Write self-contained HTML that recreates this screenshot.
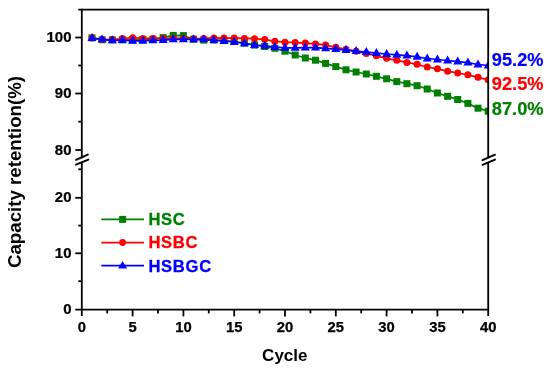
<!DOCTYPE html>
<html lang="en"><head><meta charset="utf-8"><title>Capacity retention</title>
<style>html,body{margin:0;padding:0;background:#fff}body{width:550px;height:371px;overflow:hidden;position:relative}</style></head>
<body>
<svg width="550" height="371" viewBox="0 0 550 371" style="display:block;position:absolute;left:0;top:0" font-family="'Liberation Sans', sans-serif" font-weight="bold">
<rect width="550" height="371" fill="#fff"/>
<defs><clipPath id="plotclip"><rect x="82" y="10" width="407" height="300"/></clipPath></defs>
<g clip-path="url(#plotclip)">
<polyline points="92.0,37.8 102.1,39.8 112.3,39.8 122.4,39.9 132.6,40.0 142.8,39.6 152.9,39.2 163.1,37.6 173.2,35.4 183.4,35.6 193.6,39.3 203.7,40.1 213.9,40.1 224.0,40.5 234.2,41.5 244.4,43.2 254.5,45.1 264.7,46.5 274.8,48.3 285.0,51.2 295.2,55.0 305.3,58.0 315.5,60.2 325.6,63.4 335.8,66.6 346.0,69.8 356.1,72.0 366.3,74.0 376.4,76.3 386.6,78.8 396.8,81.6 406.9,83.7 417.1,85.7 427.2,89.0 437.4,93.0 447.6,96.3 457.7,99.5 467.9,103.4 478.0,108.2 488.2,111.2" fill="none" stroke="#008000" stroke-width="1.75"/>
<rect x="88.5" y="34.3" width="7" height="7" fill="#008000"/>
<rect x="98.6" y="36.3" width="7" height="7" fill="#008000"/>
<rect x="108.8" y="36.3" width="7" height="7" fill="#008000"/>
<rect x="118.9" y="36.4" width="7" height="7" fill="#008000"/>
<rect x="129.1" y="36.5" width="7" height="7" fill="#008000"/>
<rect x="139.3" y="36.1" width="7" height="7" fill="#008000"/>
<rect x="149.4" y="35.7" width="7" height="7" fill="#008000"/>
<rect x="159.6" y="34.1" width="7" height="7" fill="#008000"/>
<rect x="169.7" y="31.9" width="7" height="7" fill="#008000"/>
<rect x="179.9" y="32.1" width="7" height="7" fill="#008000"/>
<rect x="190.1" y="35.8" width="7" height="7" fill="#008000"/>
<rect x="200.2" y="36.6" width="7" height="7" fill="#008000"/>
<rect x="210.4" y="36.6" width="7" height="7" fill="#008000"/>
<rect x="220.5" y="37.0" width="7" height="7" fill="#008000"/>
<rect x="230.7" y="38.0" width="7" height="7" fill="#008000"/>
<rect x="240.9" y="39.7" width="7" height="7" fill="#008000"/>
<rect x="251.0" y="41.6" width="7" height="7" fill="#008000"/>
<rect x="261.2" y="43.0" width="7" height="7" fill="#008000"/>
<rect x="271.3" y="44.8" width="7" height="7" fill="#008000"/>
<rect x="281.5" y="47.7" width="7" height="7" fill="#008000"/>
<rect x="291.7" y="51.5" width="7" height="7" fill="#008000"/>
<rect x="301.8" y="54.5" width="7" height="7" fill="#008000"/>
<rect x="312.0" y="56.7" width="7" height="7" fill="#008000"/>
<rect x="322.1" y="59.9" width="7" height="7" fill="#008000"/>
<rect x="332.3" y="63.1" width="7" height="7" fill="#008000"/>
<rect x="342.5" y="66.3" width="7" height="7" fill="#008000"/>
<rect x="352.6" y="68.5" width="7" height="7" fill="#008000"/>
<rect x="362.8" y="70.5" width="7" height="7" fill="#008000"/>
<rect x="372.9" y="72.8" width="7" height="7" fill="#008000"/>
<rect x="383.1" y="75.3" width="7" height="7" fill="#008000"/>
<rect x="393.3" y="78.1" width="7" height="7" fill="#008000"/>
<rect x="403.4" y="80.2" width="7" height="7" fill="#008000"/>
<rect x="413.6" y="82.2" width="7" height="7" fill="#008000"/>
<rect x="423.7" y="85.5" width="7" height="7" fill="#008000"/>
<rect x="433.9" y="89.5" width="7" height="7" fill="#008000"/>
<rect x="444.1" y="92.8" width="7" height="7" fill="#008000"/>
<rect x="454.2" y="96.0" width="7" height="7" fill="#008000"/>
<rect x="464.4" y="99.9" width="7" height="7" fill="#008000"/>
<rect x="474.5" y="104.7" width="7" height="7" fill="#008000"/>
<rect x="484.7" y="107.7" width="7" height="7" fill="#008000"/>
<polyline points="92.0,38.0 102.1,39.5 112.3,39.5 122.4,38.5 132.6,37.7 142.8,38.4 152.9,38.4 163.1,38.4 173.2,38.4 183.4,38.4 193.6,38.8 203.7,38.4 213.9,37.9 224.0,38.1 234.2,38.1 244.4,38.4 254.5,38.7 264.7,39.4 274.8,41.3 285.0,42.2 295.2,42.6 305.3,43.1 315.5,43.9 325.6,45.0 335.8,47.3 346.0,49.3 356.1,51.3 366.3,53.4 376.4,55.8 386.6,58.3 396.8,60.3 406.9,62.4 417.1,64.3 427.2,67.0 437.4,68.8 447.6,71.2 457.7,73.0 467.9,74.8 478.0,77.3 488.2,79.8" fill="none" stroke="#ff0000" stroke-width="1.75"/>
<circle cx="92.0" cy="38.0" r="3.5" fill="#ff0000"/>
<circle cx="102.1" cy="39.5" r="3.5" fill="#ff0000"/>
<circle cx="112.3" cy="39.5" r="3.5" fill="#ff0000"/>
<circle cx="122.4" cy="38.5" r="3.5" fill="#ff0000"/>
<circle cx="132.6" cy="37.7" r="3.5" fill="#ff0000"/>
<circle cx="142.8" cy="38.4" r="3.5" fill="#ff0000"/>
<circle cx="152.9" cy="38.4" r="3.5" fill="#ff0000"/>
<circle cx="163.1" cy="38.4" r="3.5" fill="#ff0000"/>
<circle cx="173.2" cy="38.4" r="3.5" fill="#ff0000"/>
<circle cx="183.4" cy="38.4" r="3.5" fill="#ff0000"/>
<circle cx="193.6" cy="38.8" r="3.5" fill="#ff0000"/>
<circle cx="203.7" cy="38.4" r="3.5" fill="#ff0000"/>
<circle cx="213.9" cy="37.9" r="3.5" fill="#ff0000"/>
<circle cx="224.0" cy="38.1" r="3.5" fill="#ff0000"/>
<circle cx="234.2" cy="38.1" r="3.5" fill="#ff0000"/>
<circle cx="244.4" cy="38.4" r="3.5" fill="#ff0000"/>
<circle cx="254.5" cy="38.7" r="3.5" fill="#ff0000"/>
<circle cx="264.7" cy="39.4" r="3.5" fill="#ff0000"/>
<circle cx="274.8" cy="41.3" r="3.5" fill="#ff0000"/>
<circle cx="285.0" cy="42.2" r="3.5" fill="#ff0000"/>
<circle cx="295.2" cy="42.6" r="3.5" fill="#ff0000"/>
<circle cx="305.3" cy="43.1" r="3.5" fill="#ff0000"/>
<circle cx="315.5" cy="43.9" r="3.5" fill="#ff0000"/>
<circle cx="325.6" cy="45.0" r="3.5" fill="#ff0000"/>
<circle cx="335.8" cy="47.3" r="3.5" fill="#ff0000"/>
<circle cx="346.0" cy="49.3" r="3.5" fill="#ff0000"/>
<circle cx="356.1" cy="51.3" r="3.5" fill="#ff0000"/>
<circle cx="366.3" cy="53.4" r="3.5" fill="#ff0000"/>
<circle cx="376.4" cy="55.8" r="3.5" fill="#ff0000"/>
<circle cx="386.6" cy="58.3" r="3.5" fill="#ff0000"/>
<circle cx="396.8" cy="60.3" r="3.5" fill="#ff0000"/>
<circle cx="406.9" cy="62.4" r="3.5" fill="#ff0000"/>
<circle cx="417.1" cy="64.3" r="3.5" fill="#ff0000"/>
<circle cx="427.2" cy="67.0" r="3.5" fill="#ff0000"/>
<circle cx="437.4" cy="68.8" r="3.5" fill="#ff0000"/>
<circle cx="447.6" cy="71.2" r="3.5" fill="#ff0000"/>
<circle cx="457.7" cy="73.0" r="3.5" fill="#ff0000"/>
<circle cx="467.9" cy="74.8" r="3.5" fill="#ff0000"/>
<circle cx="478.0" cy="77.3" r="3.5" fill="#ff0000"/>
<circle cx="488.2" cy="79.8" r="3.5" fill="#ff0000"/>
<polyline points="92.0,38.0 102.1,39.4 112.3,40.4 122.4,40.1 132.6,40.8 142.8,40.9 152.9,40.4 163.1,40.1 173.2,39.4 183.4,39.3 193.6,39.3 203.7,39.3 213.9,40.2 224.0,41.1 234.2,42.0 244.4,43.4 254.5,45.0 264.7,45.9 274.8,47.0 285.0,47.8 295.2,47.8 305.3,47.7 315.5,47.7 325.6,48.3 335.8,49.2 346.0,50.2 356.1,51.2 366.3,52.1 376.4,53.2 386.6,54.0 396.8,54.8 406.9,55.6 417.1,56.8 427.2,58.5 437.4,59.5 447.6,60.5 457.7,61.7 467.9,62.7 478.0,64.5 488.2,65.5" fill="none" stroke="#0000ff" stroke-width="1.75"/>
<polygon points="92.0,32.9 87.5,40.9 96.5,40.9" fill="#0000ff"/>
<polygon points="102.1,34.3 97.6,42.3 106.6,42.3" fill="#0000ff"/>
<polygon points="112.3,35.3 107.8,43.3 116.8,43.3" fill="#0000ff"/>
<polygon points="122.4,35.0 117.9,43.0 126.9,43.0" fill="#0000ff"/>
<polygon points="132.6,35.7 128.1,43.7 137.1,43.7" fill="#0000ff"/>
<polygon points="142.8,35.8 138.3,43.8 147.3,43.8" fill="#0000ff"/>
<polygon points="152.9,35.3 148.4,43.3 157.4,43.3" fill="#0000ff"/>
<polygon points="163.1,35.0 158.6,43.0 167.6,43.0" fill="#0000ff"/>
<polygon points="173.2,34.3 168.7,42.3 177.7,42.3" fill="#0000ff"/>
<polygon points="183.4,34.2 178.9,42.2 187.9,42.2" fill="#0000ff"/>
<polygon points="193.6,34.2 189.1,42.2 198.1,42.2" fill="#0000ff"/>
<polygon points="203.7,34.2 199.2,42.2 208.2,42.2" fill="#0000ff"/>
<polygon points="213.9,35.1 209.4,43.1 218.4,43.1" fill="#0000ff"/>
<polygon points="224.0,36.0 219.5,44.0 228.5,44.0" fill="#0000ff"/>
<polygon points="234.2,36.9 229.7,44.9 238.7,44.9" fill="#0000ff"/>
<polygon points="244.4,38.3 239.9,46.3 248.9,46.3" fill="#0000ff"/>
<polygon points="254.5,39.9 250.0,47.9 259.0,47.9" fill="#0000ff"/>
<polygon points="264.7,40.8 260.2,48.8 269.2,48.8" fill="#0000ff"/>
<polygon points="274.8,41.9 270.3,49.9 279.3,49.9" fill="#0000ff"/>
<polygon points="285.0,42.7 280.5,50.7 289.5,50.7" fill="#0000ff"/>
<polygon points="295.2,42.7 290.7,50.7 299.7,50.7" fill="#0000ff"/>
<polygon points="305.3,42.6 300.8,50.6 309.8,50.6" fill="#0000ff"/>
<polygon points="315.5,42.6 311.0,50.6 320.0,50.6" fill="#0000ff"/>
<polygon points="325.6,43.2 321.1,51.2 330.1,51.2" fill="#0000ff"/>
<polygon points="335.8,44.1 331.3,52.1 340.3,52.1" fill="#0000ff"/>
<polygon points="346.0,45.1 341.5,53.1 350.5,53.1" fill="#0000ff"/>
<polygon points="356.1,46.1 351.6,54.1 360.6,54.1" fill="#0000ff"/>
<polygon points="366.3,47.0 361.8,55.0 370.8,55.0" fill="#0000ff"/>
<polygon points="376.4,48.1 371.9,56.1 380.9,56.1" fill="#0000ff"/>
<polygon points="386.6,48.9 382.1,56.9 391.1,56.9" fill="#0000ff"/>
<polygon points="396.8,49.7 392.3,57.7 401.3,57.7" fill="#0000ff"/>
<polygon points="406.9,50.5 402.4,58.5 411.4,58.5" fill="#0000ff"/>
<polygon points="417.1,51.7 412.6,59.7 421.6,59.7" fill="#0000ff"/>
<polygon points="427.2,53.4 422.7,61.4 431.7,61.4" fill="#0000ff"/>
<polygon points="437.4,54.4 432.9,62.4 441.9,62.4" fill="#0000ff"/>
<polygon points="447.6,55.4 443.1,63.4 452.1,63.4" fill="#0000ff"/>
<polygon points="457.7,56.6 453.2,64.6 462.2,64.6" fill="#0000ff"/>
<polygon points="467.9,57.6 463.4,65.6 472.4,65.6" fill="#0000ff"/>
<polygon points="478.0,59.4 473.5,67.4 482.5,67.4" fill="#0000ff"/>
<polygon points="488.2,60.4 483.7,68.4 492.7,68.4" fill="#0000ff"/>
</g>
<g stroke="#000" stroke-width="1.8" fill="none">
<line x1="78.3" y1="9.7" x2="489.15" y2="9.7"/>
<line x1="81.8" y1="8.75" x2="81.8" y2="316"/>
<line x1="488.2" y1="8.75" x2="488.2" y2="316"/>
<line x1="75.3" y1="309.7" x2="489.15" y2="309.7"/>
<line x1="75.3" y1="37.5" x2="81.8" y2="37.5"/>
<line x1="75.3" y1="93.5" x2="81.8" y2="93.5"/>
<line x1="75.3" y1="150" x2="81.8" y2="150"/>
<line x1="75.3" y1="197.8" x2="81.8" y2="197.8"/>
<line x1="75.3" y1="253.3" x2="81.8" y2="253.3"/>
<line x1="78.3" y1="65.5" x2="81.8" y2="65.5"/>
<line x1="78.3" y1="121.7" x2="81.8" y2="121.7"/>
<line x1="78.3" y1="169.3" x2="81.8" y2="169.3"/>
<line x1="78.3" y1="225.6" x2="81.8" y2="225.6"/>
<line x1="78.3" y1="281.2" x2="81.8" y2="281.2"/>
<line x1="132.6" y1="309.7" x2="132.6" y2="316.4"/>
<line x1="183.4" y1="309.7" x2="183.4" y2="316.4"/>
<line x1="234.2" y1="309.7" x2="234.2" y2="316.4"/>
<line x1="285.0" y1="309.7" x2="285.0" y2="316.4"/>
<line x1="335.8" y1="309.7" x2="335.8" y2="316.4"/>
<line x1="386.6" y1="309.7" x2="386.6" y2="316.4"/>
<line x1="437.4" y1="309.7" x2="437.4" y2="316.4"/>
<line x1="107.2" y1="309.7" x2="107.2" y2="313.4"/>
<line x1="158.0" y1="309.7" x2="158.0" y2="313.4"/>
<line x1="208.8" y1="309.7" x2="208.8" y2="313.4"/>
<line x1="259.6" y1="309.7" x2="259.6" y2="313.4"/>
<line x1="310.4" y1="309.7" x2="310.4" y2="313.4"/>
<line x1="361.2" y1="309.7" x2="361.2" y2="313.4"/>
<line x1="412.0" y1="309.7" x2="412.0" y2="313.4"/>
<line x1="462.8" y1="309.7" x2="462.8" y2="313.4"/>
</g>
<rect x="80" y="158.6" width="3.6" height="3.2" fill="#fff" transform="rotate(-24 81.8 160.2)"/>
<rect x="486.4" y="158.6" width="3.6" height="3.2" fill="#fff" transform="rotate(-24 488.2 160.2)"/>
<g stroke="#000" stroke-width="1.9" stroke-linecap="round">
<line x1="76" y1="159.8" x2="87.8" y2="154.6"/>
<line x1="76" y1="164.7" x2="88.4" y2="159.6"/>
<line x1="482.5" y1="160.2" x2="495" y2="154.7"/>
<line x1="482.5" y1="164.8" x2="495" y2="159.6"/>
</g>
<text transform="translate(71.50 42.00) scale(0.97 1)" font-size="15.5px" text-anchor="end" fill="#000" stroke="#000" stroke-width="0.25">100</text>
<text transform="translate(71.50 98.00) scale(0.97 1)" font-size="15.5px" text-anchor="end" fill="#000" stroke="#000" stroke-width="0.25">90</text>
<text transform="translate(71.50 154.50) scale(0.97 1)" font-size="15.5px" text-anchor="end" fill="#000" stroke="#000" stroke-width="0.25">80</text>
<text transform="translate(71.50 202.30) scale(0.97 1)" font-size="15.5px" text-anchor="end" fill="#000" stroke="#000" stroke-width="0.25">20</text>
<text transform="translate(71.50 257.80) scale(0.97 1)" font-size="15.5px" text-anchor="end" fill="#000" stroke="#000" stroke-width="0.25">10</text>
<text transform="translate(71.50 313.50) scale(0.97 1)" font-size="15.5px" text-anchor="end" fill="#000" stroke="#000" stroke-width="0.25">0</text>
<text transform="translate(81.80 332.20) scale(1.0 1)" font-size="14.8px" text-anchor="middle" fill="#000" stroke="#000" stroke-width="0.25">0</text>
<text transform="translate(132.60 332.20) scale(1.0 1)" font-size="14.8px" text-anchor="middle" fill="#000" stroke="#000" stroke-width="0.25">5</text>
<text transform="translate(183.40 332.20) scale(1.0 1)" font-size="14.8px" text-anchor="middle" fill="#000" stroke="#000" stroke-width="0.25">10</text>
<text transform="translate(234.20 332.20) scale(1.0 1)" font-size="14.8px" text-anchor="middle" fill="#000" stroke="#000" stroke-width="0.25">15</text>
<text transform="translate(285.00 332.20) scale(1.0 1)" font-size="14.8px" text-anchor="middle" fill="#000" stroke="#000" stroke-width="0.25">20</text>
<text transform="translate(335.80 332.20) scale(1.0 1)" font-size="14.8px" text-anchor="middle" fill="#000" stroke="#000" stroke-width="0.25">25</text>
<text transform="translate(386.60 332.20) scale(1.0 1)" font-size="14.8px" text-anchor="middle" fill="#000" stroke="#000" stroke-width="0.25">30</text>
<text transform="translate(437.40 332.20) scale(1.0 1)" font-size="14.8px" text-anchor="middle" fill="#000" stroke="#000" stroke-width="0.25">35</text>
<text transform="translate(488.20 332.20) scale(1.0 1)" font-size="14.8px" text-anchor="middle" fill="#000" stroke="#000" stroke-width="0.25">40</text>
<text transform="translate(284.80 360.50) scale(1.0 1)" font-size="17px" text-anchor="middle" fill="#000">Cycle</text>
<text transform="translate(21.10 172.00) rotate(-90) scale(1.0 1)" font-size="18.7px" text-anchor="middle" fill="#000">Capacity retention(%)</text>
<line x1="101.3" y1="219.4" x2="144" y2="219.4" stroke="#008000" stroke-width="1.75"/>
<rect x="119.1" y="215.9" width="7" height="7" fill="#008000"/>
<text transform="translate(148.40 225.30) scale(1.0 1)" font-size="16.6px" text-anchor="start" fill="#008000" stroke="#008000" stroke-width="0.3" letter-spacing="0.7px">HSC</text>
<line x1="101.3" y1="242.5" x2="144" y2="242.5" stroke="#ff0000" stroke-width="1.75"/>
<circle cx="122.6" cy="242.5" r="3.4" fill="#ff0000"/>
<text transform="translate(148.40 248.40) scale(1.0 1)" font-size="16.6px" text-anchor="start" fill="#ff0000" stroke="#ff0000" stroke-width="0.3" letter-spacing="0.7px">HSBC</text>
<line x1="101.3" y1="265.6" x2="144" y2="265.6" stroke="#0000ff" stroke-width="1.75"/>
<polygon points="122.6,260.90000000000003 118.1,268.40000000000003 127.1,268.40000000000003" fill="#0000ff"/>
<text transform="translate(148.40 271.50) scale(1.0 1)" font-size="16.6px" text-anchor="start" fill="#0000ff" stroke="#0000ff" stroke-width="0.3" letter-spacing="0.7px">HSBGC</text>
<text transform="translate(491.80 66.00) scale(1.015 1)" font-size="18px" text-anchor="start" fill="#0000ff" stroke="#0000ff" stroke-width="0.2">95.2%</text>
<text transform="translate(491.80 89.50) scale(1.015 1)" font-size="18px" text-anchor="start" fill="#ff0000" stroke="#ff0000" stroke-width="0.2">92.5%</text>
<text transform="translate(491.80 115.00) scale(1.015 1)" font-size="18px" text-anchor="start" fill="#008000" stroke="#008000" stroke-width="0.2">87.0%</text>
</svg>
</body></html>
